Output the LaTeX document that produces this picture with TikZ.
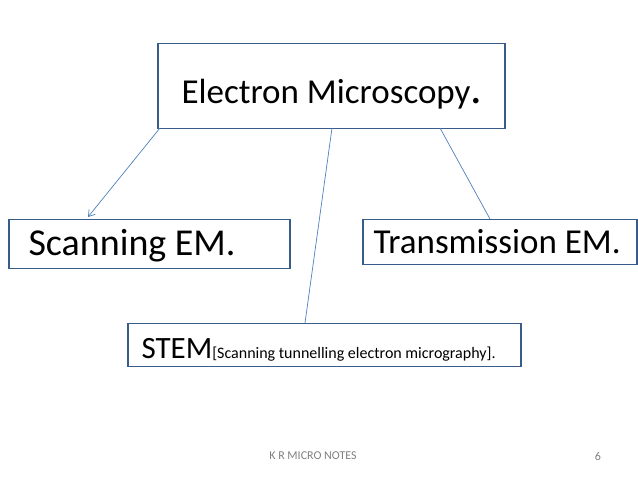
\documentclass[tikz,border=0pt]{standalone}
\usepackage{fontspec}
\setmainfont{Carlito}
\usetikzlibrary{arrows.meta}
\definecolor{boxc}{HTML}{385D8A}
\definecolor{linec}{HTML}{4F81BD}
\begin{document}
\begin{tikzpicture}[x=1pt,y=-1pt,
  bx/.style={draw=boxc,line width=1.5pt,inner sep=0pt,anchor=north west},
  ln/.style={draw=linec,line width=0.7pt}]
\useasboundingbox (0,0) rectangle (638,478);
\fill[white] (0,0) rectangle (638,478);
\node[bx,minimum width=347pt,minimum height=85pt] (em) at (157,43) {};
\node[font=\fontsize{35}{38}\selectfont,anchor=base west] at (178,104) {Electron Microscopy{\fontsize{46}{46}\selectfont.}};
\node[bx,minimum width=281pt,minimum height=49pt] (sc) at (8,219) {};
\node[font=\fontsize{38}{40}\selectfont,anchor=base west] at (25,256) {Scanning EM.};
\node[bx,minimum width=274pt,minimum height=45pt] (tr) at (362,219) {};
\node[font=\fontsize{35}{38}\selectfont,anchor=base west] at (370,254) {Transmission EM.};
\node[bx,minimum width=393pt,minimum height=43pt] (st) at (127,323) {};
\node[anchor=base west] at (138,359) {\fontsize{31}{33}\selectfont STEM\fontsize{16}{18}\selectfont [Scanning tunnelling electron micrography].};
\coordinate (a1) at (160,128); \coordinate (a2) at (88,217);
\coordinate (b1) at (332,128); \coordinate (b2) at (305,323);
\coordinate (c1) at (440,128); \coordinate (c2) at (490,219);
\draw[ln,-{Straight Barb[length=6pt,width=8pt]}] (a1) -- (a2);
\draw[ln] (b1) -- (b2);
\draw[ln] (c1) -- (c2);
\node[font=\fontsize{12}{13}\selectfont,text=gray] (ft) at (313,456) {K R MICRO NOTES};
\node[font=\fontsize{12}{13}\selectfont,text=gray] (pg) at (598,456) {6};
\end{tikzpicture}
\end{document}
